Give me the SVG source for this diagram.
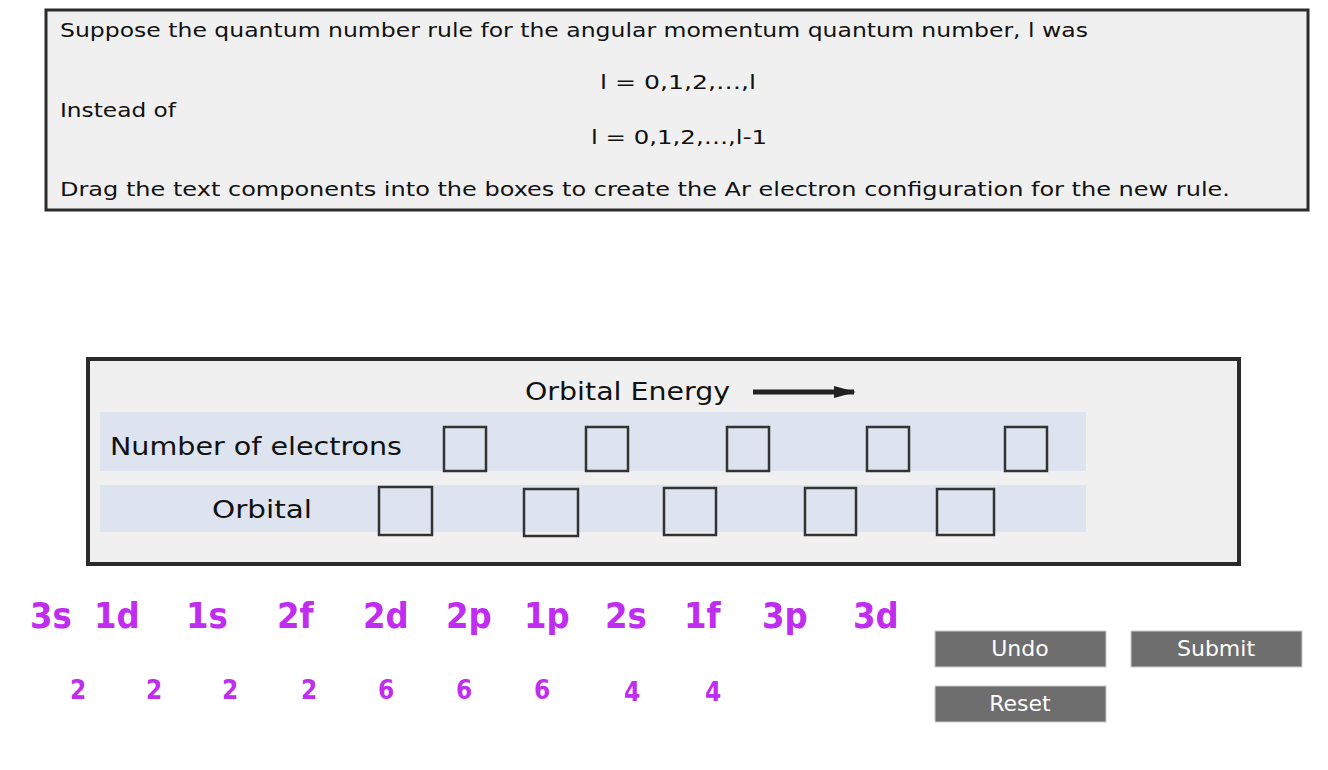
<svg xmlns="http://www.w3.org/2000/svg" width="1328" height="770" viewBox="0 0 1328 770">
<style>
text{font-family:"DejaVu Sans","Liberation Sans",sans-serif;fill:#111}
.t{font-size:20px}
.m{font-size:25px}
.lbl{font-size:36px;fill:#c02cf0;font-weight:bold;font-family:"DejaVu Sans Condensed","Liberation Sans",sans-serif}
.num{font-size:26px;fill:#c02cf0;font-weight:bold;font-family:"DejaVu Sans Condensed","Liberation Sans",sans-serif}
.box{fill:none;stroke:#333;stroke-width:2.5}
.btn{fill:#6e6e6e;stroke:#ccc;stroke-width:1}
.bt{font-size:22px;fill:#fff;text-anchor:middle}
</style>
<defs><marker id="ah" markerWidth="22" markerHeight="12" refX="20" refY="6" orient="auto" markerUnits="userSpaceOnUse"><path d="M0,0 L22,6 L0,12z" fill="#222"/></marker></defs>
<rect width="1328" height="770" fill="#fff"/>
<g id="question">
<rect x="46" y="10" width="1262" height="200" fill="#f0f0f0" stroke="#2b2b2b" stroke-width="3"/>
<text class="t" x="60" y="37" textLength="1028" lengthAdjust="spacingAndGlyphs">Suppose the quantum number rule for the angular momentum quantum number, l was</text>
<text class="t" x="600" y="89" textLength="156" lengthAdjust="spacingAndGlyphs">l = 0,1,2,…,l</text>
<text class="t" x="60" y="117" textLength="116" lengthAdjust="spacingAndGlyphs">Instead of</text>
<text class="t" x="591" y="144" textLength="176" lengthAdjust="spacingAndGlyphs">l = 0,1,2,…,l-1</text>
<text class="t" x="60" y="196" textLength="1170" lengthAdjust="spacingAndGlyphs">Drag the text components into the boxes to create the Ar electron configuration for the new rule.</text>
</g>
<g id="panel">
<rect x="88" y="359" width="1151" height="205" fill="#f0f0f0" stroke="#2b2b2b" stroke-width="4"/>
<text class="m" x="525" y="400" textLength="205" lengthAdjust="spacingAndGlyphs">Orbital Energy</text>
<rect x="100" y="412" width="986" height="59" fill="#dde4ef"/>
<rect x="100" y="485" width="986" height="47" fill="#dde4ef"/>
<text class="m" x="110" y="455" textLength="292" lengthAdjust="spacingAndGlyphs">Number of electrons</text>
<text class="m" x="212" y="518" textLength="100" lengthAdjust="spacingAndGlyphs">Orbital</text>
<rect class="box" x="444" y="427" width="42" height="44"/>
<rect class="box" x="586" y="427" width="42" height="44"/>
<rect class="box" x="727" y="427" width="42" height="44"/>
<rect class="box" x="867" y="427" width="42" height="44"/>
<rect class="box" x="1005" y="427" width="42" height="44"/>
<rect class="box" x="379" y="487" width="53" height="48"/>
<rect class="box" x="524" y="489" width="54" height="47"/>
<rect class="box" x="664" y="488" width="52" height="47"/>
<rect class="box" x="805" y="488" width="51" height="47"/>
<rect class="box" x="937" y="489" width="57" height="46"/>
</g>
<g id="connectors">
<line x1="753" y1="392" x2="854" y2="392" stroke="#222" stroke-width="5" marker-end="url(#ah)"/>
</g>
<g id="labels">
<text class="lbl" x="30" y="628">3s</text>
<text class="lbl" x="94" y="628">1d</text>
<text class="lbl" x="186" y="628">1s</text>
<text class="lbl" x="277" y="628">2f</text>
<text class="lbl" x="363" y="628">2d</text>
<text class="lbl" x="446" y="628">2p</text>
<text class="lbl" x="524" y="628">1p</text>
<text class="lbl" x="605" y="628">2s</text>
<text class="lbl" x="684" y="628">1f</text>
<text class="lbl" x="762" y="628">3p</text>
<text class="lbl" x="853" y="628">3d</text>
<text class="num" x="70" y="699">2</text>
<text class="num" x="146" y="699">2</text>
<text class="num" x="222" y="699">2</text>
<text class="num" x="301" y="699">2</text>
<text class="num" x="378" y="699">6</text>
<text class="num" x="456" y="699">6</text>
<text class="num" x="534" y="699">6</text>
<text class="num" x="624" y="701">4</text>
<text class="num" x="705" y="701">4</text>
</g>
<g id="buttons">
<rect class="btn" x="935" y="631" width="171" height="36"/><text class="bt" x="1020" y="656">Undo</text>
<rect class="btn" x="1131" y="631" width="171" height="36"/><text class="bt" x="1216" y="656">Submit</text>
<rect class="btn" x="935" y="686" width="171" height="36"/><text class="bt" x="1020" y="711">Reset</text>
</g>
</svg>
